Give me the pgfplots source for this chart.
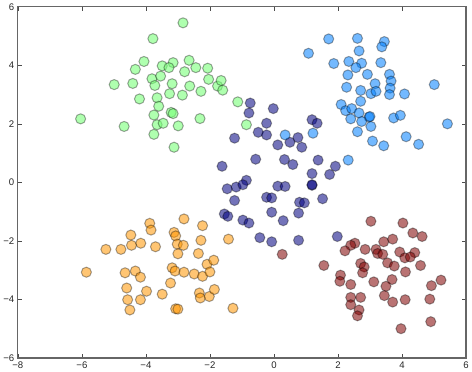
\documentclass[border=0pt]{standalone}
\usepackage{pgfplots}
\pgfplotsset{compat=1.18}
\usepackage{fontspec}
\setmainfont{Liberation Sans}
\definecolor{cA}{rgb}{0,0,0.5}
\definecolor{cB}{rgb}{0,0.5,1}
\definecolor{cC}{rgb}{0.48,1,0.48}
\definecolor{cD}{rgb}{1,0.59,0}
\definecolor{cE}{rgb}{0.5,0,0}
\begin{document}
\begin{tikzpicture}
\begin{axis}[
  scale only axis, width=444pt, height=348pt,
  xmin=-8, xmax=6, ymin=-6, ymax=6,
  xtick={-8,-6,...,6}, ytick={-6,-4,...,6},
  xticklabels={−8,−6,−4,−2,0,2,4,6},
  yticklabels={−6,−4,−2,0,2,4,6},
  tick label style={font=\fontsize{9.5}{10}\selectfont, text=black!85},
  tick align=inside, major tick length=4pt,
  tick style={black!70, line width=0.6pt},
  axis line style={black!60, line width=1.2pt},
  every axis plot/.append style={only marks, mark=*, mark size=5pt},
  clip=true,
]
% purple cluster
\addplot[mark options={fill=cA, draw=black, fill opacity=0.55, draw opacity=0.35, line width=1pt}] table {
x y
-0.74 2.71
-0.78 2.37
-0.02 2.52
-0.23 2.02
1.19 2.14
1.35 2.02
-0.49 1.71
-0.23 1.62
-1.23 1.51
0.75 1.53
0.50 1.37
0.87 1.20
0.12 1.28
-0.57 0.79
0.33 0.78
0.59 0.61
1.38 0.76
-1.62 0.55
1.92 0.55
1.74 0.27
1.19 0.30
1.19 -0.10
1.19 -0.08
-0.86 0.07
-1.46 -0.22
-1.18 -0.16
-0.97 -0.08
0.12 -0.13
0.35 -0.14
-1.23 -0.62
-0.23 -0.51
-0.07 -0.53
0.80 -0.68
0.95 -0.70
1.52 -0.56
0.77 -1.05
-0.07 -1.02
-1.55 -1.08
-1.44 -1.16
-0.97 -1.29
-0.78 -1.39
0.29 -1.31
-0.44 -1.89
-0.07 -2.03
0.77 -1.98
1.98 -1.85
};
% light blue cluster
\addplot[mark options={fill=cB, draw=black, fill opacity=0.55, draw opacity=0.35, line width=1pt}] table {
x y
1.71 4.90
2.61 4.92
3.45 4.81
3.37 4.63
2.66 4.49
1.08 4.41
1.87 4.06
2.34 4.13
2.74 4.07
2.56 3.92
3.34 4.09
2.31 3.67
2.92 3.69
3.61 3.69
3.66 3.46
3.16 3.37
2.27 3.25
2.71 3.14
3.03 3.03
3.19 3.11
3.63 3.22
3.61 3.00
4.08 3.02
5.01 3.34
2.71 2.77
2.10 2.66
2.24 2.45
2.43 2.52
2.66 2.37
2.40 2.17
2.97 2.23
2.74 2.08
3.03 1.91
3.74 2.20
3.95 2.29
5.42 2.00
2.61 1.73
1.22 1.68
3.08 1.41
3.43 1.25
4.13 1.56
4.52 1.30
2.32 0.76
0.35 1.62
3.00 2.25
};
% green cluster
\addplot[mark options={fill=cC, draw=black, fill opacity=0.6, draw opacity=0.35, line width=1pt}] table {
x y
-2.84 5.45
-3.78 4.91
-4.06 4.13
-4.33 3.86
-3.49 3.98
-3.15 4.09
-3.28 3.92
-2.65 4.17
-2.79 3.78
-2.44 3.92
-2.07 3.90
-4.99 3.34
-4.41 3.38
-3.81 3.54
-3.54 3.63
-3.72 3.31
-3.18 3.37
-3.26 3.03
-2.86 2.98
-2.63 3.29
-2.28 3.11
-2.04 3.52
-1.76 3.29
-1.65 3.48
-1.60 3.15
-4.20 2.85
-3.65 2.89
-3.60 2.60
-3.75 2.30
-3.21 2.39
-3.15 2.35
-3.65 1.97
-3.46 2.02
-3.75 1.64
-2.99 1.93
-2.31 2.18
-6.04 2.17
-4.68 1.91
-3.12 1.20
-1.13 2.75
-0.86 1.97
};
% orange cluster
\addplot[mark options={fill=cD, draw=black, fill opacity=0.55, draw opacity=0.35, line width=1pt}] table {
x y
-2.81 -1.25
-3.88 -1.40
-3.84 -1.63
-2.23 -1.48
-4.47 -1.80
-3.12 -1.71
-3.07 -1.83
-4.16 -2.08
-4.45 -2.15
-3.70 -2.20
-5.25 -2.29
-4.78 -2.29
-3.02 -2.11
-2.83 -2.15
-2.28 -1.98
-1.42 -1.94
-3.00 -2.44
-2.36 -2.43
-5.86 -3.07
-4.65 -3.09
-4.33 -3.03
-4.17 -3.24
-3.18 -2.92
-3.09 -3.03
-2.81 -3.07
-2.49 -3.13
-2.23 -3.21
-2.09 -2.80
-1.88 -2.66
-2.00 -3.06
-3.23 -3.44
-4.60 -3.61
-3.98 -3.72
-3.49 -3.82
-4.57 -4.01
-4.17 -4.01
-2.33 -3.78
-2.30 -3.95
-2.02 -3.90
-1.86 -3.66
-4.50 -4.36
-3.07 -4.32
-3.00 -4.33
-1.28 -4.30
};
% red cluster
\addplot[mark options={fill=cE, draw=black, fill opacity=0.55, draw opacity=0.35, line width=1pt}] table {
x y
3.03 -1.33
4.03 -1.39
4.34 -1.73
4.63 -1.85
2.53 -2.08
2.40 -2.15
2.22 -2.34
2.85 -2.29
3.43 -2.03
3.71 -1.94
3.19 -2.29
3.24 -2.43
3.40 -2.46
3.93 -2.38
4.09 -2.58
4.40 -2.40
4.26 -2.55
1.56 -2.84
2.71 -2.77
2.82 -2.89
2.77 -3.09
3.55 -2.75
3.76 -2.86
4.11 -3.06
4.58 -2.84
2.08 -3.17
2.06 -3.38
2.40 -3.49
3.12 -3.40
3.69 -3.32
3.50 -3.55
4.92 -3.53
5.22 -3.34
2.40 -3.93
2.71 -3.93
3.45 -3.87
3.71 -4.09
4.10 -4.01
4.87 -3.99
2.40 -4.18
2.66 -4.36
2.61 -4.56
3.97 -5.00
4.90 -4.76
0.26 -2.46
};
\end{axis}
\end{tikzpicture}
\end{document}
